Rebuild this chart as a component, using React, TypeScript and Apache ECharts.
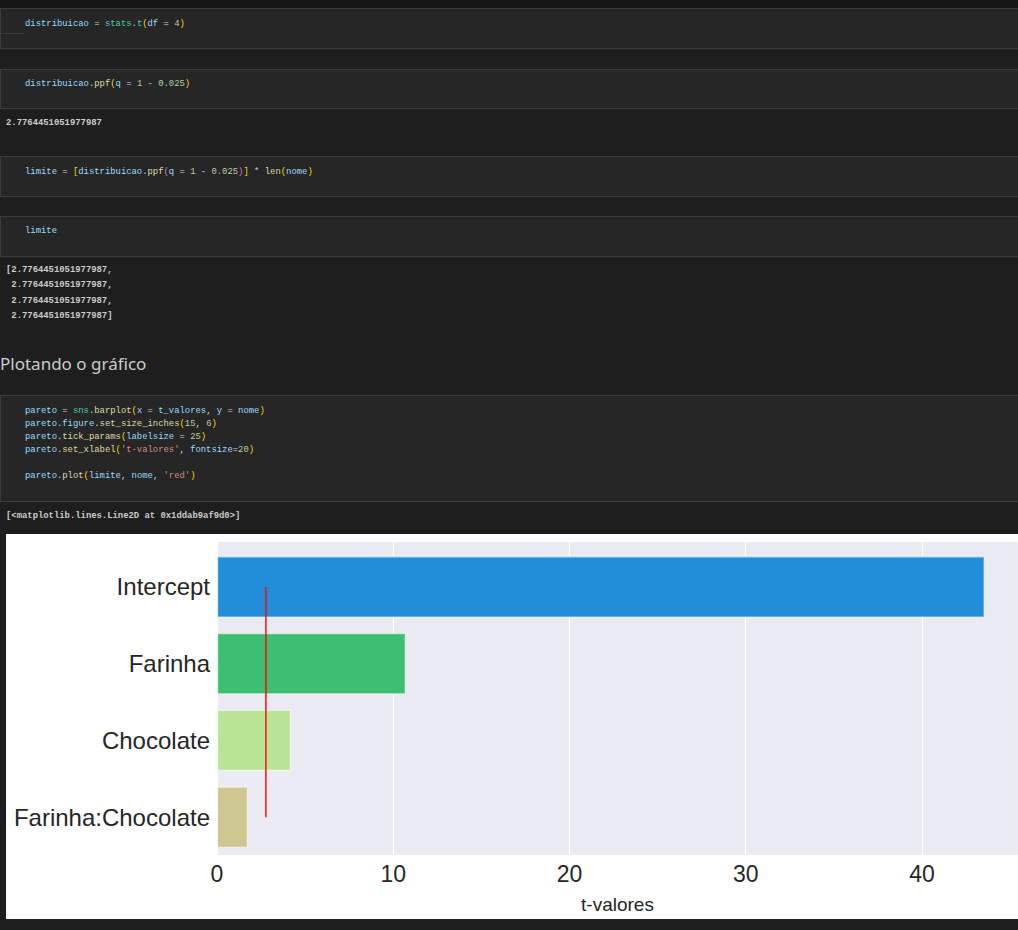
import React, { useEffect, useRef } from "react";
import * as echarts from "echarts";

// ---- chart data ----
const categories = ["Intercept", "Farinha", "Chocolate", "Farinha:Chocolate"];
const tValores = [43.56, 10.72, 4.2, 1.76];
const barColors = ["#228ed9", "#3dbe73", "#b9e496", "#cfc791"];
const limite = [2.7764451051977987, 2.7764451051977987, 2.7764451051977987, 2.7764451051977987];
const xMin = 0;
const xMax = 45.45;
const xInterval = 10;

// ---- notebook colours ----
const V = "#9cdcfe";
const O = "#d4d4d4";
const T = "#4ec9b0";
const F = "#dcdcaa";
const N = "#b5cea8";
const P1 = "#ffd700";
const P2 = "#da70d6";
const S = "#ce9178";

type Tok = [string, string];

const cellBoxes = [
  { top: 8, bottom: 49 },
  { top: 69, bottom: 109 },
  { top: 156, bottom: 197 },
  { top: 216, bottom: 257 },
  { top: 395, bottom: 502 },
];

const codeLines: { y: number; toks: Tok[] }[] = [
  { y: 24, toks: [["distribuicao", V], [" = ", O], ["stats", T], [".", O], ["t", T], ["(", P1], ["df", V], [" = ", O], ["4", N], [")", P1]] },
  { y: 84, toks: [["distribuicao", V], [".", O], ["ppf", F], ["(", P1], ["q", V], [" = ", O], ["1", N], [" - ", O], ["0.025", N], [")", P1]] },
  { y: 172, toks: [["limite", V], [" = ", O], ["[", P1], ["distribuicao", V], [".", O], ["ppf", F], ["(", P2], ["q", V], [" = ", O], ["1", N], [" - ", O], ["0.025", N], [")", P2], ["]", P1], [" * ", O], ["len", F], ["(", P1], ["nome", V], [")", P1]] },
  { y: 231.5, toks: [["limite", V]] },
  { y: 411, toks: [["pareto", V], [" = ", O], ["sns", T], [".", O], ["barplot", F], ["(", P1], ["x", V], [" = ", O], ["t_valores", V], [", ", O], ["y", V], [" = ", O], ["nome", V], [")", P1]] },
  { y: 424.5, toks: [["pareto", V], [".", O], ["figure", V], [".", O], ["set_size_inches", F], ["(", P1], ["15", N], [", ", O], ["6", N], [")", P1]] },
  { y: 437.8, toks: [["pareto", V], [".", O], ["tick_params", F], ["(", P1], ["labelsize", V], [" = ", O], ["25", N], [")", P1]] },
  { y: 450.8, toks: [["pareto", V], [".", O], ["set_xlabel", F], ["(", P1], ["'t-valores'", S], [", ", O], ["fontsize", V], ["=", O], ["20", N], [")", P1]] },
  { y: 476.8, toks: [["pareto", V], [".", O], ["plot", F], ["(", P1], ["limite", V], [", ", O], ["nome", V], [", ", O], ["'red'", S], [")", P1]] },
];

const outputLines: { y: number; text: string }[] = [
  { y: 123, text: "2.7764451051977987" },
  { y: 270, text: "[2.7764451051977987," },
  { y: 285.5, text: " 2.7764451051977987," },
  { y: 301, text: " 2.7764451051977987," },
  { y: 316, text: " 2.7764451051977987]" },
  { y: 516, text: "[<matplotlib.lines.Line2D at 0x1ddab9af9d0>]" },
];

const monoFont = "'Liberation Mono', 'DejaVu Sans Mono', monospace";

function Chart() {
  const ref = useRef<HTMLDivElement>(null);
  useEffect(() => {
    if (!ref.current) return;
    const chart = echarts.init(ref.current, undefined, { renderer: "svg" });
    const textColor = "#262626";
    const labelFont = "'Liberation Sans', Arial, sans-serif";
    chart.setOption({
      animation: false,
      backgroundColor: "#ffffff",
      grid: [
        { left: 211, top: 8, right: 0, height: 320, show: true, backgroundColor: "#eaeaf2", borderWidth: 0 },
        { left: 211, top: 14.5, right: 0, height: 307, show: false },
      ],
      xAxis: [
        {
          gridIndex: 0,
          type: "value",
          min: xMin,
          max: xMax,
          interval: xInterval,
          axisLine: { show: false },
          axisTick: { show: false },
          splitLine: { show: true, lineStyle: { color: "#ffffff", width: 1.2 } },
          axisLabel: { fontSize: 23, color: textColor, fontFamily: labelFont, margin: 7, showMaxLabel: false },
          name: "t-valores",
          nameLocation: "middle",
          nameGap: 40,
          nameTextStyle: { fontSize: 19, color: textColor, fontFamily: labelFont },
        },
        { gridIndex: 1, type: "value", min: xMin, max: xMax, show: false },
      ],
      yAxis: [
        { gridIndex: 0, type: "value", min: 0, max: 1, show: false },
        {
          gridIndex: 1,
          type: "category",
          data: categories,
          inverse: true,
          axisLine: { show: false },
          axisTick: { show: false },
          splitLine: { show: false },
          axisLabel: { fontSize: 24, color: textColor, fontFamily: labelFont, margin: 7 },
        },
      ],
      series: [
        {
          type: "bar",
          xAxisIndex: 1,
          yAxisIndex: 1,
          barWidth: "80%",
          data: tValores.map((v, i) => ({
            value: v,
            itemStyle: { color: barColors[i], borderColor: "rgba(255,255,255,0.6)", borderWidth: 1.2 },
          })),
        },
        {
          type: "line",
          xAxisIndex: 1,
          yAxisIndex: 1,
          symbol: "none",
          z: 5,
          lineStyle: { color: "#ff0000", width: 1.4 },
          data: limite.map((v, i) => [v, categories[i]]),
        },
      ],
    });
    return () => chart.dispose();
  }, []);
  return <div ref={ref} style={{ position: "absolute", left: 6, top: 534, width: 1012, height: 385 }} />;
}

export default function App() {
  return (
    <div
      style={{
        position: "fixed",
        left: 0,
        top: 0,
        width: 1018,
        height: 930,
        background: "#1e1e1e",
        overflow: "hidden",
      }}
    >
      <div style={{ position: "absolute", left: 0, top: 0, width: 1018, height: 8, background: "#151515" }} />
      {cellBoxes.map((c, i) => (
        <div
          key={i}
          style={{
            position: "absolute",
            left: 0,
            top: c.top,
            width: 1030,
            height: c.bottom - c.top,
            boxSizing: "border-box",
            background: "#262626",
            border: "1px solid #3c3c3c",
          }}
        />
      ))}
      <div style={{ position: "absolute", left: 0, top: 33, width: 25, height: 1, background: "#3a3a3a" }} />
      {codeLines.map((l, i) => (
        <div
          key={i}
          style={{
            position: "absolute",
            left: 25,
            top: l.y - 6.5,
            height: 13,
            lineHeight: "13px",
            fontFamily: monoFont,
            fontSize: 8.9,
            whiteSpace: "pre",
          }}
        >
          {l.toks.map((t, j) => (
            <span key={j} style={{ color: t[1] }}>
              {t[0]}
            </span>
          ))}
        </div>
      ))}
      {outputLines.map((l, i) => (
        <div
          key={i}
          style={{
            position: "absolute",
            left: 6,
            top: l.y - 6.5,
            height: 13,
            lineHeight: "13px",
            fontFamily: monoFont,
            fontSize: 8.9,
            whiteSpace: "pre",
            color: "#cccccc",
            fontWeight: 600,
          }}
        >
          {l.text}
        </div>
      ))}
      <div
        style={{
          position: "absolute",
          left: 0,
          top: 364 - 12,
          height: 24,
          lineHeight: "24px",
          fontFamily: "'Noto Sans', 'Open Sans', sans-serif",
          fontSize: 17,
          color: "#cccccc",
          whiteSpace: "pre",
        }}
      >
        Plotando o gráfico
      </div>
      <Chart />
    </div>
  );
}
